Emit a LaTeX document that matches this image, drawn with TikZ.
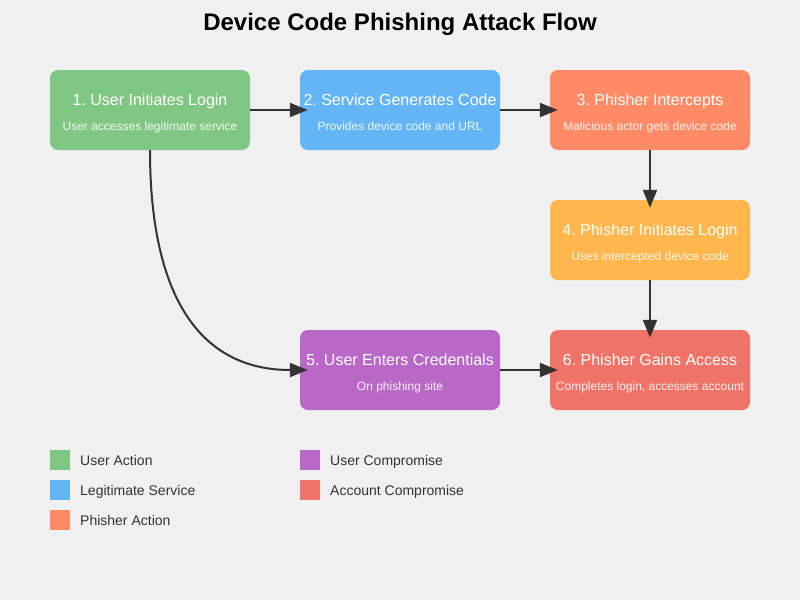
\documentclass[tikz,border=0pt]{standalone}
\usepackage{fontspec}
\setmainfont{Liberation Sans}
\usetikzlibrary{arrows.meta}
\frenchspacing
\definecolor{bgc}{HTML}{F0F0F0}
\definecolor{cgreen}{HTML}{81C784}
\definecolor{cblue}{HTML}{64B5F6}
\definecolor{cdorange}{HTML}{FF8A65}
\definecolor{corange}{HTML}{FFB74D}
\definecolor{cpurple}{HTML}{BA68C8}
\definecolor{cred}{HTML}{F07369}
\definecolor{cline}{HTML}{333333}
\tikzset{
  stepbox/.style={draw=none, rounded corners=8pt, minimum width=200pt, minimum height=80pt, inner sep=0pt},
  boxtitle/.style={anchor=base, text=white, font=\fontsize{16}{19}\selectfont, inner sep=0pt},
  boxsub/.style={anchor=base, text=white, text opacity=0.9, font=\fontsize{12}{14}\selectfont, inner sep=0pt},
  conn/.style={draw=cline, line width=2pt, -{Triangle[length=18pt,width=14pt]}, shorten >=-8pt},
  legsq/.style={minimum size=20pt, inner sep=0pt, anchor=north west},
  legtxt/.style={anchor=base west, text=cline, font=\fontsize{14}{17}\selectfont, inner sep=0pt},
}
\begin{document}
\begin{tikzpicture}[x=1pt,y=-1pt]
\fill[bgc] (0,0) rectangle (800,600);
\useasboundingbox (0,0) rectangle (800,600);
\node[anchor=base, font=\bfseries\fontsize{24}{29}\selectfont, text=black, inner sep=0pt] (title) at (400,30) {Device Code Phishing Attack Flow};

\node[stepbox, fill=cgreen] (b1) at (150,110) {};
\node[stepbox, fill=cblue] (b2) at (400,110) {};
\node[stepbox, fill=cdorange] (b3) at (650,110) {};
\node[stepbox, fill=corange] (b4) at (650,240) {};
\node[stepbox, fill=cpurple] (b5) at (400,370) {};
\node[stepbox, fill=cred] (b6) at (650,370) {};

\node[boxtitle] (t1) at (150,105) {1. User Initiates Login};
\node[boxsub] (s1) at (150,130) {User accesses legitimate service};
\node[boxtitle] (t2) at (400,105) {2. Service Generates Code};
\node[boxsub] (s2) at (400,130) {Provides device code and URL};
\node[boxtitle] (t3) at (650,105) {3. Phisher Intercepts};
\node[boxsub] (s3) at (650,130) {Malicious actor gets device code};
\node[boxtitle] (t4) at (650,235) {4. Phisher Initiates Login};
\node[boxsub] (s4) at (650,260) {Uses intercepted device code};
\node[boxtitle] (t5) at (400,365) {5. User Enters Credentials};
\node[boxsub] (s5) at (400,390) {On phishing site};
\node[boxtitle] (t6) at (650,365) {6. Phisher Gains Access};
\node[boxsub] (s6) at (650,390) {Completes login, accesses account};

\draw[conn] (b1.east) -- (b2.west);
\draw[conn] (b2.east) -- (b3.west);
\draw[conn] (b3.south) -- (b4.north);
\draw[conn] (b4.south) -- (b6.north);
\draw[conn] (b5.east) -- (b6.west);
\draw[conn, shorten >=0pt] (b1.south) .. controls (150,296.7) and (200,370) .. ([xshift=8pt]b5.west);

\node[legsq, fill=cgreen] (l1) at (50,450) {};
\node[legtxt] (lt1) at (80,465) {User Action};
\node[legsq, fill=cblue] (l2) at (50,480) {};
\node[legtxt] (lt2) at (80,495) {Legitimate Service};
\node[legsq, fill=cdorange] (l3) at (50,510) {};
\node[legtxt] (lt3) at (80,525) {Phisher Action};
\node[legsq, fill=cpurple] (l4) at (300,450) {};
\node[legtxt] (lt4) at (330,465) {User Compromise};
\node[legsq, fill=cred] (l5) at (300,480) {};
\node[legtxt] (lt5) at (330,495) {Account Compromise};
\end{tikzpicture}
\end{document}
